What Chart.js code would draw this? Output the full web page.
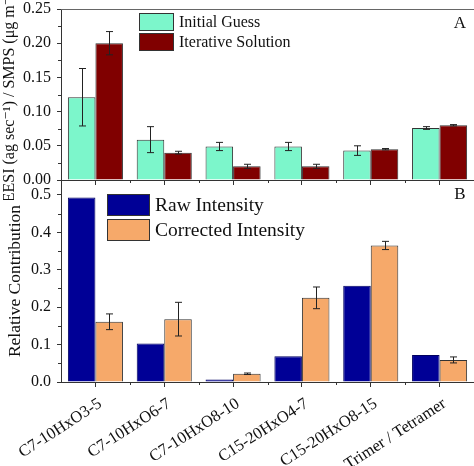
<!DOCTYPE html>
<html>
<head>
<meta charset="utf-8">
<script src="https://cdn.jsdelivr.net/npm/chart.js@4.4.1/dist/chart.umd.min.js"></script>
<style>
    body { margin: 0; background: #fff; width: 474px; height: 466px; position: relative; overflow: hidden; }
    #chart-a { position: absolute; left: 0; top: 0; }
    #chart-b { position: absolute; left: 0; top: 180px; }
</style>
</head>
<body>
<canvas id="chart-a" width="474" height="200"></canvas>
<canvas id="chart-b" width="474" height="286"></canvas>
<script>
const categories = ["C7-10HxO3-5", "C7-10HxO6-7", "C7-10HxO8-10", "C15-20HxO4-7", "C15-20HxO8-15", "Trimer / Tetramer"]

// panel A
const initialGuess = [0.121, 0.059, 0.049, 0.049, 0.043, 0.076]
const initialGuessErr = [0.042, 0.019, 0.006, 0.006, 0.007, 0.002]
const iterativeSolution = [0.200, 0.040, 0.020, 0.020, 0.045, 0.080]
const iterativeSolutionErr = [0.017, 0.002, 0.003, 0.003, 0.001, 0.001]
const ticksA = [0, 0.05, 0.10, 0.15, 0.20, 0.25]

// panel B
const rawIntensity = [0.493, 0.103, 0.007, 0.069, 0.257, 0.072]
const correctedIntensity = [0.161, 0.168, 0.022, 0.225, 0.365, 0.059]
const correctedIntensityErr = [0.021, 0.045, 0.002, 0.029, 0.011, 0.008]
const ticksB = [0, 0.1, 0.2, 0.3, 0.4, 0.5]

const serif = "'Liberation Serif', 'DejaVu Serif', serif"
Chart.defaults.font.family = serif
Chart.defaults.color = "#111"

const axisColor = "#333"

// error bars, drawn from the dataset's err array through the y scale
const errorBars = {
    id: "errorBars",
    afterDatasetsDraw(chart) {
        const ctx = chart.ctx
        const y = chart.scales.y
        ctx.save()
        ctx.strokeStyle = "#222"
        ctx.lineWidth = 1
        chart.data.datasets.forEach((ds, i) => {
            if (!ds.err) return
            chart.getDatasetMeta(i).data.forEach((bar, j) => {
                const top = y.getPixelForValue(ds.data[j] + ds.err[j])
                const bot = y.getPixelForValue(ds.data[j] - ds.err[j])
                const x = Math.round(bar.x) + 0.5
                ctx.beginPath()
                ctx.moveTo(x, top); ctx.lineTo(x, bot)
                ctx.moveTo(x - 3.5, top); ctx.lineTo(x + 3.5, top)
                ctx.moveTo(x - 3.5, bot); ctx.lineTo(x + 3.5, bot)
                ctx.stroke()
            })
        })
        ctx.restore()
    }
}

// frame, minor ticks, legend boxes and panel letter
const decor = {
    id: "decor",
    afterDraw(chart, args, opts) {
        const ctx = chart.ctx
        const area = chart.chartArea
        const x = chart.scales.x
        const y = chart.scales.y
        ctx.save()
        ctx.strokeStyle = axisColor
        ctx.lineWidth = 1
        if (opts.topLine) {
            ctx.strokeStyle = "#666"
            ctx.beginPath()
            ctx.moveTo(area.left, area.top + 0.5)
            ctx.lineTo(area.right, area.top + 0.5)
            ctx.stroke()
            ctx.strokeStyle = axisColor
        }
        // minor ticks
        ctx.beginPath()
        const t = y.ticks
        for (let k = 0; k < t.length - 1; k++) {
            const py = Math.round(y.getPixelForValue((t[k].value + t[k + 1].value) / 2)) + 0.5
            ctx.moveTo(area.left - 3, py); ctx.lineTo(area.left, py)
        }
        for (let k = 1; k < chart.data.labels.length; k++) {
            const px = Math.round((x.getPixelForValue(k - 1) + x.getPixelForValue(k)) / 2) + 0.5
            ctx.moveTo(px, area.bottom); ctx.lineTo(px, area.bottom + 3)
        }
        ctx.stroke()

        // legend
        const lg = opts.legend
        ctx.font = lg.size + "px " + serif
        ctx.textBaseline = "middle"
        ctx.textAlign = "left"
        chart.data.datasets.forEach((ds, i) => {
            const by = lg.y + i * lg.step
            ctx.fillStyle = ds.backgroundColor
            ctx.fillRect(lg.x, by, lg.w, lg.h)
            ctx.strokeStyle = "#333"
            ctx.strokeRect(lg.x + 0.5, by + 0.5, lg.w - 1, lg.h - 1)
            ctx.fillStyle = "#111"
            ctx.fillText(ds.label, lg.x + lg.w + 5, by + lg.h / 2 + 1)
        })

        // panel letter
        ctx.font = "17px " + serif
        ctx.textAlign = "center"
        ctx.fillText(opts.letter, area.right - 14, area.top + 15)
        ctx.restore()
    }
}

function yAxis(max, ticks, digits, title, titleSize, titlePad) {
    return {
        min: 0,
        max: max,
        afterBuildTicks: s => { s.ticks = ticks.map(v => ({ value: v })) },
        afterFit: s => { s.width = 61; s.paddingTop = 0; s.paddingBottom = 0 },
        border: { display: true, color: axisColor, width: 1 },
        grid: { drawOnChartArea: false, tickLength: 4, tickColor: axisColor },
        ticks: { font: { family: serif, size: 16 }, padding: 6, callback: v => v.toFixed(digits) },
        title: { display: true, text: title, font: { family: serif, size: titleSize }, padding: { top: titlePad, bottom: 0 } }
    }
}

new Chart(document.getElementById("chart-a"), {
    type: "bar",
    data: {
        labels: categories,
        datasets: [
            { label: "Initial Guess", data: initialGuess, err: initialGuessErr, backgroundColor: "#7cf6cb", borderColor: "#333", borderWidth: 1 },
            { label: "Iterative Solution", data: iterativeSolution, err: iterativeSolutionErr, backgroundColor: "#800000", borderColor: "#333", borderWidth: 1 }
        ]
    },
    options: {
        responsive: false,
        animation: false,
        layout: { padding: { top: 9, left: 0, right: 0, bottom: 0 } },
        categoryPercentage: 0.8,
        barPercentage: 1.0,
        plugins: {
            legend: { display: false },
            tooltip: { enabled: false },
            decor: { topLine: true, letter: "A", legend: { x: 139, y: 13, w: 35, h: 18, step: 20, size: 16 } }
        },
        scales: {
            x: {
                afterFit: s => { s.height = 20; s.paddingLeft = 0; s.paddingRight = 0 },
                border: { display: true, color: axisColor, width: 1 },
                grid: { offset: false, drawOnChartArea: false, tickLength: 5, tickColor: axisColor },
                ticks: { display: false }
            },
            y: yAxis(0.25, ticksA, 2, "EESI (ag sec\u207B\u00B9) / SMPS (\u03BCg m\u207B\u00B3)", 16, 0)
        }
    },
    plugins: [errorBars, decor]
})

new Chart(document.getElementById("chart-b"), {
    type: "bar",
    data: {
        labels: categories,
        datasets: [
            { label: "Raw Intensity", data: rawIntensity, backgroundColor: "#000096", borderColor: "#000060", borderWidth: 1 },
            { label: "Corrected Intensity", data: correctedIntensity, err: correctedIntensityErr, backgroundColor: "#f6a96a", borderColor: "#333", borderWidth: 1 }
        ]
    },
    options: {
        responsive: false,
        animation: false,
        layout: { padding: 0 },
        categoryPercentage: 0.8,
        barPercentage: 1.0,
        plugins: {
            legend: { display: false },
            tooltip: { enabled: false },
            decor: { topLine: false, letter: "B", legend: { x: 107, y: 14, w: 43, h: 22, step: 25, size: 19.5 } }
        },
        scales: {
            x: {
                afterFit: s => { s.height = 84; s.paddingLeft = 0; s.paddingRight = 0 },
                border: { display: true, color: axisColor, width: 1 },
                grid: { offset: false, drawOnChartArea: false, tickLength: 5, tickColor: axisColor },
                ticks: { font: { family: serif, size: 16.5 }, minRotation: 33, maxRotation: 33, autoSkip: false, padding: 7, labelOffset: 5 }
            },
            y: yAxis(0.54, ticksB, 1, "Relative Contribution", 17.5, 5)
        }
    },
    plugins: [errorBars, decor]
})
</script>
</body>
</html>
